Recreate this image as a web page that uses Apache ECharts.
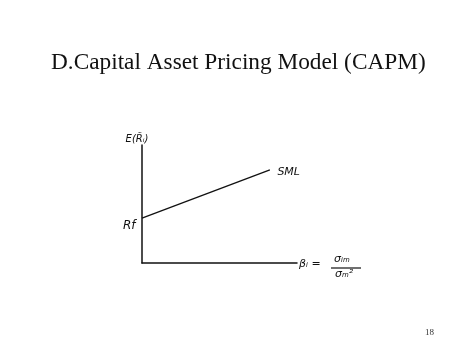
<!DOCTYPE html>
<html><head><meta charset="utf-8">
<script src="https://cdn.jsdelivr.net/npm/echarts@6/dist/echarts.min.js"></script>
<style>html,body{margin:0;padding:0;background:#fff}#c{width:474px;height:355px}</style>
</head><body><div id="c"></div>
<script>
var titleText = 'D.Capital Asset Pricing Model (CAPM)';
var betas = [0, 1.65];
var expectedReturns = [7.6, 15.8];
var pointLabels = ['Rf', 'SML'];
var pageNumber = '18';

var hand = '"DejaVu Sans", sans-serif';
var chart = echarts.init(document.getElementById('c'), null, {renderer: 'canvas'});
var data = betas.map(function (b, i) {
  return {
    value: [b, expectedReturns[i]],
    label: i === 0
      ? {show: true, formatter: pointLabels[i], position: 'left', offset: [-1, 8], fontSize: 12}
      : {show: true, formatter: pointLabels[i], position: 'right', offset: [2, 2]}
  };
});
chart.setOption({
  backgroundColor: '#fff',
  animation: false,
  title: {
    text: titleText, left: 46, top: 46,
    textStyle: {fontFamily: '"Liberation Serif", serif', fontWeight: 'normal', fontSize: 23.3, color: '#111'}
  },
  grid: {left: 142, top: 145, width: 155, height: 118},
  xAxis: {
    type: 'value', min: 0, max: 2,
    axisLine: {show: true, lineStyle: {color: '#111', width: 1.5}},
    axisTick: {show: false}, axisLabel: {show: false}, splitLine: {show: false}
  },
  yAxis: {
    type: 'value', min: 0, max: 20,
    name: 'E(R\u0303\u1D62)', nameLocation: 'end', nameGap: 1,
    nameTextStyle: {fontFamily: hand, fontStyle: 'italic', fontSize: 10, color: '#111', align: 'center', padding: [0, 10, 0, 0]},
    axisLine: {show: true, lineStyle: {color: '#111', width: 1.5}},
    axisTick: {show: false}, axisLabel: {show: false}, splitLine: {show: false}
  },
  series: [{
    type: 'line', data: data, symbol: 'circle', symbolSize: 1, showSymbol: true,
    itemStyle: {color: 'rgba(0,0,0,0)', borderWidth: 0},
    lineStyle: {color: '#111', width: 1.3},
    label: {show: true, fontFamily: hand, fontStyle: 'italic', fontSize: 11, color: '#111'}
  }],
  graphic: [
    {type: 'text', left: 299, top: 259, style: {text: '\u03B2\u1D62 =', font: 'italic 11px ' + hand, fill: '#111'}},
    {type: 'text', left: 334, top: 254, style: {text: '\u03C3\u1D62\u2098', font: 'italic 11px ' + hand, fill: '#111'}},
    {type: 'line', shape: {x1: 331, y1: 268, x2: 361, y2: 268}, style: {stroke: '#111', lineWidth: 1.2}},
    {type: 'text', left: 335, top: 269, style: {text: '\u03C3\u2098\u00B2', font: 'italic 11px ' + hand, fill: '#111'}},
    {type: 'text', left: 425, top: 328, style: {text: pageNumber, font: '9px "Liberation Serif", serif', fill: '#333'}}
  ]
});
</script></body></html>
